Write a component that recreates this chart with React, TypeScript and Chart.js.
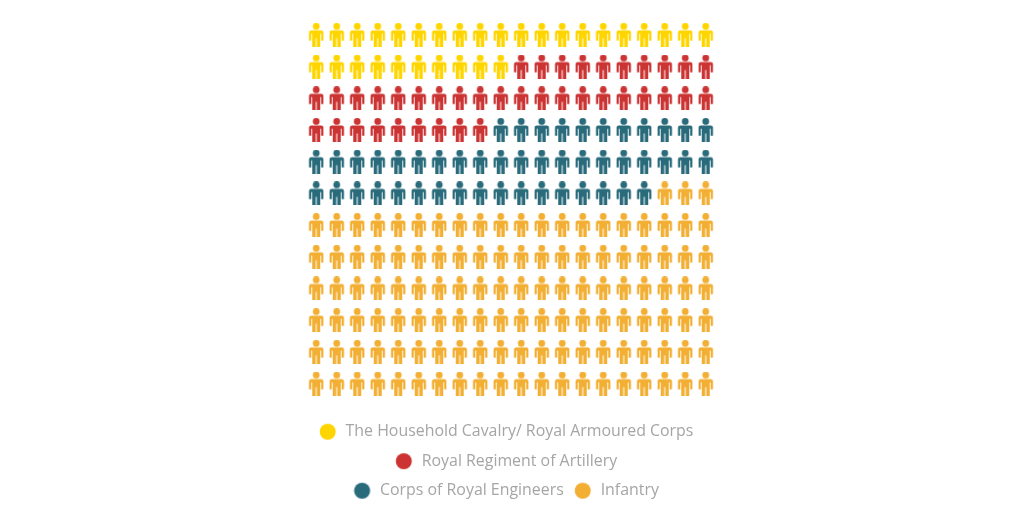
import React, { useEffect, useRef } from "react";
import { Chart, registerables } from "chart.js";

Chart.register(...registerables);

const categories = [
  "The Household Cavalry/ Royal Armoured Corps",
  "Royal Regiment of Artillery",
  "Corps of Royal Engineers",
  "Infantry",
];
const counts = [30, 39, 48, 123];
const colors = ["#ffd500", "#cc3333", "#296b7b", "#f2af33"];
const columnCount = 20;
const rowCount = 12;

function personIcon(color: string) {
  const c = document.createElement("canvas");
  c.width = 16;
  c.height = 24;
  const g = c.getContext("2d")!;
  g.fillStyle = color;
  g.beginPath();
  g.arc(8, 3.4, 3.4, 0, Math.PI * 2);
  g.fill();
  g.beginPath();
  g.moveTo(3, 7.4);
  g.lineTo(13, 7.4);
  g.quadraticCurveTo(15.2, 7.4, 15.2, 9.6);
  g.lineTo(15.2, 17.8);
  g.lineTo(12.9, 17.8);
  g.lineTo(12.9, 10.8);
  g.lineTo(12, 10.8);
  g.lineTo(12, 24);
  g.lineTo(8.5, 24);
  g.lineTo(8.5, 15.5);
  g.lineTo(7.5, 15.5);
  g.lineTo(7.5, 24);
  g.lineTo(4, 24);
  g.lineTo(4, 10.8);
  g.lineTo(3.1, 10.8);
  g.lineTo(3.1, 17.8);
  g.lineTo(0.8, 17.8);
  g.lineTo(0.8, 9.6);
  g.quadraticCurveTo(0.8, 7.4, 3, 7.4);
  g.closePath();
  g.fill();
  return c;
}

function legendDot(color: string) {
  const c = document.createElement("canvas");
  c.width = 22;
  c.height = 18;
  const g = c.getContext("2d")!;
  g.fillStyle = color;
  g.beginPath();
  g.arc(11 - 2.3, 9, 8, 0, Math.PI * 2);
  g.fill();
  return c;
}

const shiftLegend = {
  id: "shiftLegend",
  afterLayout(chart: any) {
    chart.legend.left -= 3.2;
    chart.legend.right -= 3.2;
  },
};

export default function App() {
  const ref = useRef<HTMLCanvasElement>(null);
  useEffect(() => {
    let index = 0;
    const datasets = categories.map((label, i) => {
      const data: { x: number; y: number }[] = [];
      for (let n = 0; n < counts[i]; n++, index++) {
        data.push({ x: index % columnCount, y: Math.floor(index / columnCount) });
      }
      return {
        label,
        data,
        pointStyle: personIcon(colors[i]),
        backgroundColor: colors[i],
        borderColor: colors[i],
      };
    });
    const dots = colors.map(legendDot);
    const chart = new Chart(ref.current!, {
      type: "scatter",
      data: { datasets },
      plugins: [shiftLegend],
      options: {
        animation: false,
        responsive: false,
        layout: { padding: { left: 306, right: 308, top: 19, bottom: 3.3 } },
        scales: {
          x: { display: false, min: -0.5, max: columnCount - 0.5 },
          y: { display: false, min: -0.5, max: rowCount - 0.16, reverse: true },
        },
        plugins: {
          tooltip: { enabled: false },
          legend: {
            position: "bottom",
            maxWidth: 420,
            labels: {
              usePointStyle: true,
              boxWidth: 15.4,
              boxHeight: 11.3,
              padding: 13.6,
              color: "#a5a5a5",
              font: { family: "'Open Sans'", size: 15.9 },
              generateLabels: (c: any) =>
                Chart.defaults.plugins.legend.labels
                  .generateLabels(c)
                  .map((item: any, i: number) => ({ ...item, pointStyle: dots[i] })),
            },
          },
        },
      },
    });
    return () => chart.destroy();
  }, []);
  return (
    <div style={{ position: "absolute", left: 0, top: 0, width: 1024, height: 512, background: "#fff" }}>
      <canvas ref={ref} width={1024} height={512} style={{ display: "block" }} />
    </div>
  );
}
